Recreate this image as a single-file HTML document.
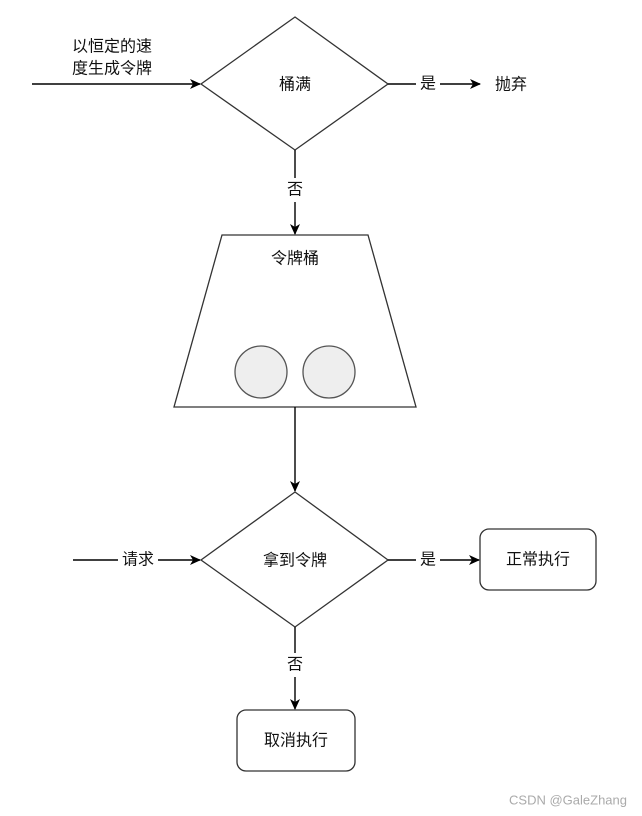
<!DOCTYPE html>
<html><head><meta charset="utf-8"><style>
html,body{margin:0;padding:0;background:#fff;}
svg{display:block;font-family:"Liberation Sans","Noto Sans CJK SC",sans-serif;}
</style></head><body>
<svg width="642" height="816" viewBox="0 0 642 816" xmlns="http://www.w3.org/2000/svg">
<defs>
<marker id="a" markerWidth="12" markerHeight="12" refX="10" refY="6" orient="auto" markerUnits="userSpaceOnUse">
<path d="M0,1 L11,6 L0,11 L3,6 Z" fill="#000"/>
</marker>
</defs>
<g stroke="#333" stroke-width="1.3" fill="#fff">
<polygon points="295,17 388,84 295,150 201,84"/>
<polygon points="222,235 368,235 416,407 174,407"/>
<polygon points="295,492 388,560 295,627 201,560"/>
<rect x="480" y="529" width="116" height="61" rx="9"/>
<rect x="237" y="710" width="118" height="61" rx="9"/>
<circle cx="261" cy="372" r="26" fill="#eee" stroke="#555"/>
<circle cx="329" cy="372" r="26" fill="#eee" stroke="#555"/>
</g>
<g stroke="#000" stroke-width="1.4" fill="none">
<line x1="32" y1="84" x2="200" y2="84" marker-end="url(#a)"/>
<line x1="388" y1="84" x2="416" y2="84"/>
<line x1="440" y1="84" x2="480" y2="84" marker-end="url(#a)"/>
<line x1="295" y1="150" x2="295" y2="178"/>
<line x1="295" y1="202" x2="295" y2="234" marker-end="url(#a)"/>
<line x1="295" y1="407" x2="295" y2="491" marker-end="url(#a)"/>
<line x1="73" y1="560" x2="118" y2="560"/>
<line x1="158" y1="560" x2="200" y2="560" marker-end="url(#a)"/>
<line x1="388" y1="560" x2="416" y2="560"/>
<line x1="440" y1="560" x2="479" y2="560" marker-end="url(#a)"/>
<line x1="295" y1="627" x2="295" y2="653"/>
<line x1="295" y1="677" x2="295" y2="709" marker-end="url(#a)"/>
</g>
<g font-size="16" fill="#111" text-anchor="middle" dominant-baseline="central">
<text x="112" y="47">以恒定的速</text>
<text x="112" y="69">度生成令牌</text>
<text x="295" y="85">桶满</text>
<text x="428" y="84">是</text>
<text x="511" y="85">抛弃</text>
<text x="295" y="190">否</text>
<text x="295" y="259">令牌桶</text>
<text x="138" y="560">请求</text>
<text x="295" y="561">拿到令牌</text>
<text x="428" y="560">是</text>
<text x="538" y="560">正常执行</text>
<text x="295" y="665">否</text>
<text x="296" y="741">取消执行</text>
</g>
<text x="627" y="800" font-size="13" fill="#aaa" text-anchor="end" dominant-baseline="central">CSDN @GaleZhang</text>
</svg>
</body></html>
